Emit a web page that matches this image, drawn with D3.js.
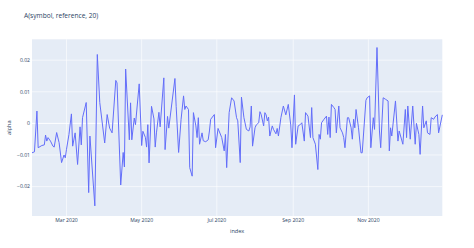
<!DOCTYPE html>
<html><head><meta charset="utf-8">
<script src="https://cdn.jsdelivr.net/npm/d3@7"></script>
<style>html,body{margin:0;padding:0;background:#fff;}svg{display:block;}</style>
</head><body><svg id="c" width="474" height="248"></svg>
<script>
const dates = ["2020-02-02","2020-02-04","2020-02-06","2020-02-07","2020-02-10","2020-02-12","2020-02-13","2020-02-14","2020-02-15","2020-02-17","2020-02-19","2020-02-20","2020-02-22","2020-02-24","2020-02-26","2020-02-28","2020-02-29",
"2020-03-01","2020-03-03","2020-03-05","2020-03-06","2020-03-08","2020-03-10","2020-03-12","2020-03-13","2020-03-14","2020-03-17","2020-03-19","2020-03-20","2020-03-24","2020-03-26","2020-03-28",
"2020-04-01","2020-04-03","2020-04-05","2020-04-07","2020-04-10","2020-04-11","2020-04-14","2020-04-16","2020-04-17","2020-04-18","2020-04-21","2020-04-22","2020-04-23","2020-04-25","2020-04-26","2020-04-29",
"2020-05-01","2020-05-02","2020-05-04","2020-05-05","2020-05-06","2020-05-07","2020-05-09","2020-05-11","2020-05-12","2020-05-13","2020-05-15","2020-05-16","2020-05-19","2020-05-20","2020-05-22","2020-05-23","2020-05-28","2020-05-29","2020-05-31",
"2020-06-02","2020-06-04","2020-06-05","2020-06-06","2020-06-08","2020-06-09","2020-06-11","2020-06-12","2020-06-14","2020-06-15","2020-06-16","2020-06-17","2020-06-19","2020-06-20","2020-06-22","2020-06-24","2020-06-25","2020-06-26","2020-06-29","2020-06-30",
"2020-07-02","2020-07-05","2020-07-07","2020-07-08","2020-07-09","2020-07-11","2020-07-13","2020-07-15","2020-07-17","2020-07-18","2020-07-20","2020-07-21","2020-07-23","2020-07-25","2020-07-27","2020-07-28","2020-07-29","2020-07-30",
"2020-08-01","2020-08-02","2020-08-04","2020-08-05","2020-08-06","2020-08-08","2020-08-09","2020-08-10","2020-08-11","2020-08-12","2020-08-13","2020-08-15","2020-08-16","2020-08-18","2020-08-19","2020-08-20","2020-08-22","2020-08-24","2020-08-26","2020-08-28","2020-08-30","2020-08-31",
"2020-09-02","2020-09-03","2020-09-05","2020-09-07","2020-09-08","2020-09-10","2020-09-11","2020-09-13","2020-09-15","2020-09-16","2020-09-17","2020-09-19","2020-09-21","2020-09-22","2020-09-23","2020-09-24","2020-09-26","2020-09-28","2020-09-29","2020-09-30",
"2020-10-01","2020-10-02","2020-10-04","2020-10-05","2020-10-06","2020-10-08","2020-10-09","2020-10-11","2020-10-12","2020-10-13","2020-10-15","2020-10-16","2020-10-18","2020-10-19","2020-10-20","2020-10-21","2020-10-22","2020-10-24","2020-10-26","2020-10-27","2020-10-30","2020-10-31",
"2020-11-02","2020-11-03","2020-11-05","2020-11-06","2020-11-08","2020-11-10","2020-11-11","2020-11-13","2020-11-15","2020-11-17","2020-11-18","2020-11-19","2020-11-20","2020-11-23","2020-11-25","2020-11-26","2020-11-29",
"2020-12-01","2020-12-02","2020-12-03","2020-12-05","2020-12-07","2020-12-09","2020-12-10","2020-12-12","2020-12-13","2020-12-15","2020-12-16","2020-12-18","2020-12-19","2020-12-21","2020-12-22","2020-12-24","2020-12-25","2020-12-27","2020-12-28","2020-12-31"];
const alpha = [-0.0093,-0.009,0.0039,-0.0077,-0.007,-0.0068,-0.0037,-0.0056,-0.0045,-0.0056,-0.0072,-0.0075,-0.0029,-0.0061,-0.0124,-0.01,-0.0109,
-0.0082,-0.0035,0.003,-0.0072,-0.003,-0.013,-0.0011,-0.0068,0.0018,0.0066,-0.0219,-0.004,-0.0261,0.0218,0.0066,
-0.0062,0.0028,-0.0015,-0.003,0.0136,0.0128,-0.0195,-0.0092,-0.0138,0.0172,-0.0052,0.0065,-0.0052,0.0017,-0.0004,0.0125,
-0.007,-0.0025,-0.0044,-0.0075,-0.0004,-0.0125,0.0054,0.0014,-0.0075,-0.003,0.0035,-0.0011,0.0144,-0.0083,0.0022,-0.0015,0.0142,0.0054,-0.0092,
0.0013,0.0087,0.0044,0.0055,0.0044,-0.014,-0.0167,0.0034,-0.0008,-0.0045,0.0018,-0.0066,-0.003,-0.0055,-0.0058,-0.0052,-0.0024,0.0013,0.0028,-0.0077,
-0.0016,-0.0045,-0.0087,-0.0035,-0.014,0.0034,0.0081,0.0071,0.0018,0.0008,-0.0124,0.0083,0.0018,-0.0019,-0.0024,-0.0011,0.0055,-0.0072,
-0.0014,-0.0005,0.0002,0.0037,0.0028,-0.0008,0.0034,0.0027,0.0008,0.002,-0.004,-0.0008,-0.0019,-0.0033,-0.0016,-0.004,0.0018,0.0055,0.0027,0.006,-0.0005,-0.0077,
0.009,-0.0066,-0.0008,-0.0003,0.0002,-0.0056,0.0034,0.0023,-0.0045,0.005,-0.0045,-0.0066,-0.0146,-0.0035,-0.005,0.0002,0.0013,0.0023,-0.0035,0.002,
-0.0045,0.006,0.005,0.0044,-0.003,0.0055,-0.0014,-0.003,-0.0045,-0.0077,0.0018,0.0018,-0.0014,-0.005,0.0013,-0.0014,0.0044,-0.0014,-0.0093,-0.0093,0.0073,0.0081,
0.0087,-0.0077,0.0018,-0.0019,0.024,-0.0024,-0.0077,0.0081,0.0076,0.0071,-0.0087,-0.0014,-0.004,0.0071,-0.0056,-0.0024,-0.0066,
0.0044,-0.0045,0.0055,-0.005,0.0055,-0.0066,0.0,-0.0035,-0.0098,0.0055,-0.0014,0.0008,-0.003,-0.0035,0.0018,0.0013,0.002,0.0028,-0.003,0.0027];
const yTicks = [-0.02, -0.01, 0, 0.01, 0.02];
const yTickLabels = ["−0.02", "−0.01", "0", "0.01", "0.02"];
const xTickDates = ["2020-03-01","2020-05-01","2020-07-01","2020-09-01","2020-11-01"];
const xTickLabels = ["Mar 2020","May 2020","Jul 2020","Sep 2020","Nov 2020"];
const titleText = "A(symbol, reference, 20)";
const xTitle = "index";
const yTitle = "alpha";

const W = 474, H = 248;
const m = {l: 32, r: 31.7, t: 39.3, b: 32};
const parse = d3.utcParse("%Y-%m-%d");
const data = dates.map((d, i) => ({date: parse(d), v: alpha[i]}));
const svg = d3.select("#c");
const font = "'Open Sans', 'Noto Sans', sans-serif";
const txt = "#2a3f5f";

const x = d3.scaleUtc().domain(d3.extent(data, d => d.date)).range([m.l, W - m.r]);
const y = d3.scaleLinear().domain([-0.0293, 0.0266]).range([H - m.b, m.t]);

svg.append("rect").attr("x", m.l).attr("y", m.t)
  .attr("width", W - m.r - m.l).attr("height", H - m.b - m.t).attr("fill", "#E5ECF6");

const xt = xTickDates.map(parse);
svg.append("g").selectAll("line").data(xt).join("line")
  .attr("x1", d => x(d)).attr("x2", d => x(d))
  .attr("y1", m.t).attr("y2", H - m.b)
  .attr("stroke", "#fff").attr("stroke-width", 0.6);
svg.append("g").selectAll("line").data(yTicks).join("line")
  .attr("x1", m.l).attr("x2", W - m.r)
  .attr("y1", d => y(d)).attr("y2", d => y(d))
  .attr("stroke", "#fff").attr("stroke-width", d => d === 0 ? 1 : 0.6);

const line = d3.line().x(d => x(d.date)).y(d => y(d.v));
svg.append("path").datum(data).attr("d", line)
  .attr("fill", "none").attr("stroke", "#636EFA").attr("stroke-width", 1)
  .attr("stroke-linejoin", "round");

svg.append("g").selectAll("text").data(yTicks).join("text")
  .attr("x", m.l - 2).attr("y", d => y(d)).attr("dy", "0.35em")
  .attr("text-anchor", "end").attr("font-family", font).attr("font-size", 5.1)
  .attr("fill", txt).text((d, i) => yTickLabels[i]);
svg.append("g").selectAll("text").data(xt).join("text")
  .attr("x", d => x(d)).attr("y", H - m.b + 4).attr("dy", "0.35em")
  .attr("text-anchor", "middle").attr("font-family", font).attr("font-size", 5.1)
  .attr("fill", txt).text((d, i) => xTickLabels[i]);

svg.append("text").attr("x", 24).attr("y", 16).attr("dy", "0.35em")
  .attr("font-family", font).attr("font-size", 6.6).attr("fill", txt).text(titleText);
svg.append("text").attr("x", (m.l + W - m.r) / 2).attr("y", 230.7).attr("dy", "0.35em")
  .attr("text-anchor", "middle").attr("font-family", font).attr("font-size", 5.6)
  .attr("fill", txt).text(xTitle);
svg.append("text").attr("transform", `translate(9,${(m.t + H - m.b) / 2}) rotate(-90)`)
  .attr("dy", "0.35em").attr("text-anchor", "middle").attr("font-family", font)
  .attr("font-size", 5.6).attr("fill", txt).text(yTitle);
</script></body></html>
